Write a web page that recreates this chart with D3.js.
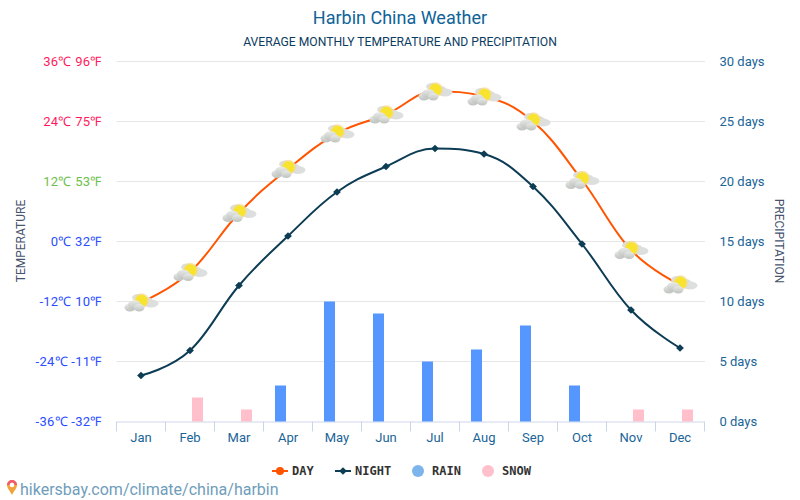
<!DOCTYPE html>
<html><head><meta charset="utf-8">
<script src="https://cdn.jsdelivr.net/npm/d3@7/dist/d3.min.js"></script>
<style>
html,body{margin:0;padding:0;background:#fff}
svg{display:block;font-family:Roboto,sans-serif}
</style></head><body>
<svg id="c" width="800" height="500"></svg>
<script>
const months=["Jan","Feb","Mar","Apr","May","Jun","Jul","Aug","Sep","Oct","Nov","Dec"];
const dayTemps=[-12.2,-6.1,5.7,14.5,21.6,25.4,30,29,24,12.3,-1.7,-8.6];
const nightTemps=[-26.8,-21.8,-8.8,1.1,9.9,15,18.6,17.5,11,-0.5,-13.7,-21.3];
const rainDays=[0,0,0,3,10,9,5,6,8,3,0,0];
const snowDays=[0,2,1,0,0,0,0,0,0,0,1,1];
const tempTicks=[36,24,12,0,-12,-24,-36];
const fahrenheit={"36":"96","24":"75","12":"53","0":"32","-12":"10","-24":"-11","-36":"-32"};
const dayTickValues=[0,5,10,15,20,25,30];
const legendItems=[["DAY","line","#ff5500"],["NIGHT","line","#0d3c55"],["RAIN","dot","#7cb5ec"],["SNOW","dot","#ffc0cb"]];
const seriesKeys=["rain","snow"];

const svg=d3.select("#c");
const L=116.5,R=704.5,T=61.5,B=421.5;
const x=d3.scaleBand().domain(months).range([L,R]);
const cx=m=>x(m)+x.bandwidth()/2;
const yT=d3.scaleLinear().domain([-36,36]).range([B,T]);
const yD=d3.scaleLinear().domain([0,30]).range([B,T]);
const sub=d3.scaleBand().domain(seriesKeys).range([-13,13]).paddingInner(4/15).paddingOuter(0);

function hcSpline(ctx){
  let pts;
  return {
    areaStart(){},areaEnd(){},
    lineStart(){pts=[];},
    point(a,b){pts.push([+a,+b]);},
    lineEnd(){
      const s=1.5,d=2.5,n=pts.length;
      const rc=[];
      for(let i=0;i<n;i++){
        const [px,py]=pts[i];
        if(i===0){ctx.moveTo(px,py);rc.push([px,py]);continue;}
        let lc=[px,py],r=[px,py];
        if(i<n-1){
          const [lx,ly]=pts[i-1],[nx,ny]=pts[i+1];
          let lcx=(s*px+lx)/d,lcy=(s*py+ly)/d,rcx=(s*px+nx)/d,rcy=(s*py+ny)/d;
          const corr=((rcy-lcy)*(rcx-px))/(rcx-lcx)+py-rcy;
          lcy+=corr;rcy+=corr;
          if(lcy>ly&&lcy>py){lcy=Math.max(ly,py);rcy=2*py-lcy;}
          else if(lcy<ly&&lcy<py){lcy=Math.min(ly,py);rcy=2*py-lcy;}
          if(rcy>ny&&rcy>py){rcy=Math.max(ny,py);lcy=2*py-rcy;}
          else if(rcy<ny&&rcy<py){rcy=Math.min(ny,py);lcy=2*py-rcy;}
          lc=[lcx,lcy];r=[rcx,rcy];
        }
        ctx.bezierCurveTo(rc[i-1][0],rc[i-1][1],lc[0],lc[1],px,py);
        rc.push(r);
      }
    }
  };
}

// titles
svg.append("text").attr("x",400).attr("y",24).attr("text-anchor","middle").attr("font-size",18).attr("fill","#0f6399").text("Harbin China Weather");
svg.append("text").attr("x",400).attr("y",46).attr("text-anchor","middle").attr("font-size",12.15).attr("fill","#0c3c62").text("AVERAGE MONTHLY TEMPERATURE AND PRECIPITATION");

// grid
svg.append("g").attr("stroke","#e6e6e6").selectAll("line").data(dayTickValues.slice(1)).join("line")
  .attr("x1",L).attr("x2",R+.5).attr("y1",d=>yD(d)).attr("y2",d=>yD(d));

// left axis
const tempColor=t=>t>=24?"#ff1a5e":t===12?"#6cc04a":"#2a4dff";
const gl=svg.append("g").attr("transform",`translate(${L},0)`)
  .call(d3.axisLeft(yT).tickValues(tempTicks).tickSize(0).tickPadding(15).tickFormat(t=>`${t}℃ ${fahrenheit[t]}℉`));
gl.select(".domain").remove();
gl.selectAll("text").attr("font-family","Roboto,sans-serif").attr("font-size",13).attr("letter-spacing",.25).attr("fill",tempColor).attr("dy","0.3em");

// right axis
const gr=svg.append("g").attr("transform",`translate(${R},0)`)
  .call(d3.axisRight(yD).tickValues(dayTickValues).tickSize(0).tickPadding(15).tickFormat(d=>`${d} days`));
gr.select(".domain").remove();
gr.selectAll("text").attr("font-family","Roboto,sans-serif").attr("font-size",13).attr("fill","#1a6497").attr("dy","0.3em");

// bottom axis
const gb=svg.append("g").attr("transform",`translate(0,${B})`)
  .call(d3.axisBottom(x).tickSize(0).tickPadding(11));
gb.select(".domain").attr("stroke","#ccd6eb").attr("d",`M${L},0.5H${R}`);
gb.selectAll("text").attr("font-family","Roboto,sans-serif").attr("font-size",13).attr("fill","#1a6497");
svg.append("g").attr("stroke","#ccd6eb").selectAll("line").data(months.concat(["end"])).join("line")
  .attr("x1",d=>d==="end"?R:x(d)).attr("x2",d=>d==="end"?R:x(d)).attr("y1",B).attr("y2",B+10);

// axis titles
svg.append("text").attr("transform","translate(25,241) rotate(-90)").attr("text-anchor","middle").attr("font-size",12).attr("fill","#46546e").text("TEMPERATURE");
svg.append("text").attr("transform","translate(775,241) rotate(90)").attr("text-anchor","middle").attr("font-size",12).attr("fill","#46546e").text("PRECIPITATION");

// bars
const bars=(vals,key,col)=>svg.append("g").selectAll("rect").data(months).join("rect")
  .attr("x",m=>cx(m)+sub(key)).attr("width",sub.bandwidth())
  .attr("y",(m,i)=>yD(vals[i])).attr("height",(m,i)=>B-yD(vals[i])).attr("fill",col);
bars(rainDays,"rain","#5596ff");
bars(snowDays,"snow","#ffc0cb");

// lines
const lineGen=d3.line().x((v,i)=>cx(months[i])).y(v=>yT(v)).curve(hcSpline);
svg.append("path").attr("d",lineGen(dayTemps)).attr("fill","none").attr("stroke","#ff5500").attr("stroke-width",2);
svg.append("path").attr("d",lineGen(nightTemps)).attr("fill","none").attr("stroke","#0d3c55").attr("stroke-width",2);
svg.append("g").selectAll("path").data(nightTemps).join("path")
  .attr("d",d3.symbol(d3.symbolDiamond2,38)).attr("fill","#0d3c55")
  .attr("transform",(v,i)=>`translate(${cx(months[i])},${yT(v)})`);

// weather icons
const defs=svg.append("defs");
const grad=defs.append("linearGradient").attr("id","cl").attr("x1",0).attr("x2",0).attr("y1",0).attr("y2",1);
grad.append("stop").attr("offset",0).attr("stop-color","#e8eae8");
grad.append("stop").attr("offset",1).attr("stop-color","#bec2be");
const icon=defs.append("g").attr("id","wx");
const back=icon.append("g").attr("fill","#dcdfdd");
[[-3,-5,6,3.6],[10,1,7.5,4],[5,-1,7,4.5]].forEach(e=>back.append("ellipse").attr("cx",e[0]).attr("cy",e[1]).attr("rx",e[2]).attr("ry",e[3]));
icon.append("circle").attr("cx",.5).attr("cy",-1.8).attr("r",7.4).attr("fill","#f5d98a").attr("opacity",.7);
icon.append("circle").attr("cx",.5).attr("cy",-1.8).attr("r",6).attr("fill","#f8e32e");
const front=icon.append("g").attr("fill","url(#cl)");
[[-11,5,5.5,4],[-6.5,2.5,6.5,4.8],[-1.8,5.2,5.2,3.8]].forEach(e=>front.append("ellipse").attr("cx",e[0]).attr("cy",e[1]).attr("rx",e[2]).attr("ry",e[3]));
svg.append("g").selectAll("use").data(dayTemps).join("use")
  .attr("href","#wx").attr("transform",(v,i)=>`translate(${cx(months[i])},${yT(v)})`);

// legend
const legendX=[272,335,412,482];
const lg=svg.append("g").attr("transform","translate(0,471)");
legendItems.forEach((it,i)=>{
  const g=lg.append("g").attr("transform",`translate(${legendX[i]},0)`);
  if(it[1]==="line"){
    g.append("line").attr("x1",0).attr("x2",16).attr("stroke",it[2]).attr("stroke-width",2);
    g.append("path").attr("d",d3.symbol(i===0?d3.symbolCircle:d3.symbolDiamond2,i===0?50:38)).attr("transform","translate(8,0)").attr("fill",it[2]);
  } else {
    g.append("circle").attr("cx",6).attr("r",6).attr("fill",it[2]);
  }
  g.append("text").attr("x",20).attr("dy","0.36em").attr("font-family","'DejaVu Sans Mono',monospace").attr("font-weight","bold").attr("font-size",12).attr("fill","#333").text(it[0]);
});

// footer
const pin=svg.append("g").attr("transform","translate(12,488)");
pin.append("path").attr("d","M0,7 C-2,3 -5,0 -5,-3 A5,5 0 1 1 5,-3 C5,0 2,3 0,7Z").attr("fill","#f2a33c");
pin.append("path").attr("d","M-5,-3 A5,5 0 0 1 5,-3 L2.4,-3 A2.4,2.4 0 0 0 -2.4,-3Z").attr("fill","#ef5a6f");
pin.append("circle").attr("cy",-3).attr("r",2.3).attr("fill","#fff");
svg.append("text").attr("x",20).attr("y",495).attr("font-size",16).attr("fill","#6f9dba").text("hikersbay.com/climate/china/harbin");
</script>
</body></html>
